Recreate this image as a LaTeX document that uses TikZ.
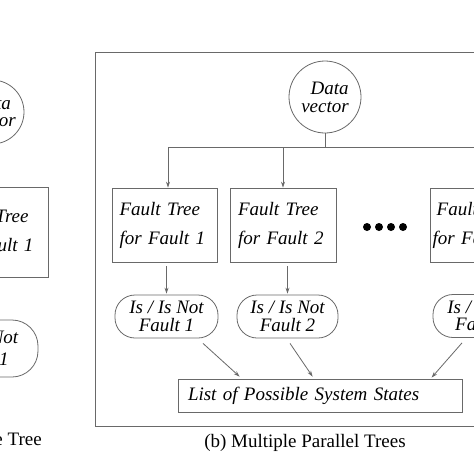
\documentclass[tikz,border=0pt]{standalone}
\usepackage{fontspec}
\setmainfont{Liberation Serif}
\usetikzlibrary{arrows.meta,calc}
\definecolor{lc}{RGB}{105,105,105}
\tikzset{
  line/.style={draw=lc, line width=0.8pt},
  arr/.style={line, -{Stealth[length=6pt,width=4pt]}},
  ftbox/.style={line, rectangle, minimum height=74pt, text width=90pt, inner xsep=7.5pt, inner ysep=0pt, align=left, font=\fontsize{19}{29}\selectfont\itshape},
  stadium/.style={line, rectangle, rounded corners=20pt, minimum width=103pt, minimum height=43pt, inner sep=0pt, align=center, font=\fontsize{19}{17.5}\selectfont\itshape},
  dvcircle/.style={line, circle, minimum size=72pt, inner sep=0pt, font=\fontsize{19}{18}\selectfont\itshape},
  listbox/.style={line, rectangle, minimum height=33pt, text width=264pt, inner xsep=10pt, inner ysep=0pt, align=left, font=\fontsize{19}{19}\selectfont\itshape},
  caption/.style={font=\fontsize{19}{19}\selectfont, inner sep=0pt},
  frame/.style={line}
}
\begin{document}
\begin{tikzpicture}[x=1pt,y=-1pt]
\useasboundingbox (0,0) rectangle (474,474);
\clip (0,0) rectangle (474,474);
\fill[white] (0,0) rectangle (474,474);

% ---------- panel (a), mostly cut off ----------
\node[dvcircle, minimum size=64pt, font=\fontsize{19}{17}\selectfont\itshape, align=center] (adv) at (-8,112) {Data\\vector};
\node[ftbox, minimum height=90pt, text width=88pt, inner xsep=12pt] (af) at (-8,232) {Fault Tree\\for Fault 1};
\node[stadium, minimum width=114pt, minimum height=57pt, rounded corners=26pt, font=\fontsize{19}{22}\selectfont\itshape] (ae) at (-19,348.5) {Is / Is Not\\Fault 1};
\node[caption, anchor=base east] (acap) at (42,445) {(a) Single Tree};

% ---------- panel (b) ----------
\draw[frame] (95,52) rectangle (620,426);

\node[dvcircle, align=right] (dv) at (325,97) {Data\\vector};

\node[ftbox] (f1) at (164.5,225) {Fault Tree\\for Fault 1};
\node[ftbox, minimum width=106pt] (f2) at (283,225) {Fault Tree\\for Fault 2};
\node[ftbox, text width=94pt, inner xsep=0pt, align=center] (f3) at (477,225) {Fault Tree\\for Fault N};

\foreach \x in {367,379,391,403} \fill[black] (\x,227) circle[radius=4pt];

\node[stadium] (e1) at (166.5,316.5) {Is / Is Not\\Fault 1};
\node[stadium, minimum width=101pt] (e2) at (287.5,316.5) {Is / Is Not\\Fault 2};
\node[stadium] (e3) at (484.5,316) {Is / Is Not\\Fault N};

\node[listbox] (list) at (320,395.5) {List of Possible System States};

\node[caption, anchor=base] (bcap) at (305,447) {(b) Multiple Parallel Trees};

% connectors
\coordinate (jt) at (325,147);
\coordinate (jl) at (168,147);
\coordinate (j2) at (283,147);
\coordinate (j3) at (477,147);
\coordinate (jr) at (620,147);
\draw[line] (dv.south) -- (jt);
\draw[line] (jl) -- (jr);
\draw[arr] (jl) -- (jl |- f1.north);
\draw[arr] (j2) -- (j2 |- f2.north);
\draw[arr] (j3) -- (j3 |- f3.north);

\draw[arr, shorten <=4pt, shorten >=1pt] (f1.south -| e1.north) -- (e1.north);
\draw[arr, shorten <=4pt, shorten >=1pt] (f2.south -| e2.north) -- (e2.north);
\draw[arr, shorten <=4pt, shorten >=1pt] (f3.south -| e3.north) -- (e3.north);

\draw[arr] ($(e1.south)+(36.5,5)$) -- ($(list.north west)+(62,-2)$);
\draw[arr] ($(e2.south)+(2.5,5)$) -- ($(list.north west)+(135,-2)$);
\draw[arr] ($(e3.south)+(-22.5,5)$) -- ($(list.north west)+(254,-1)$);
\end{tikzpicture}
\end{document}
